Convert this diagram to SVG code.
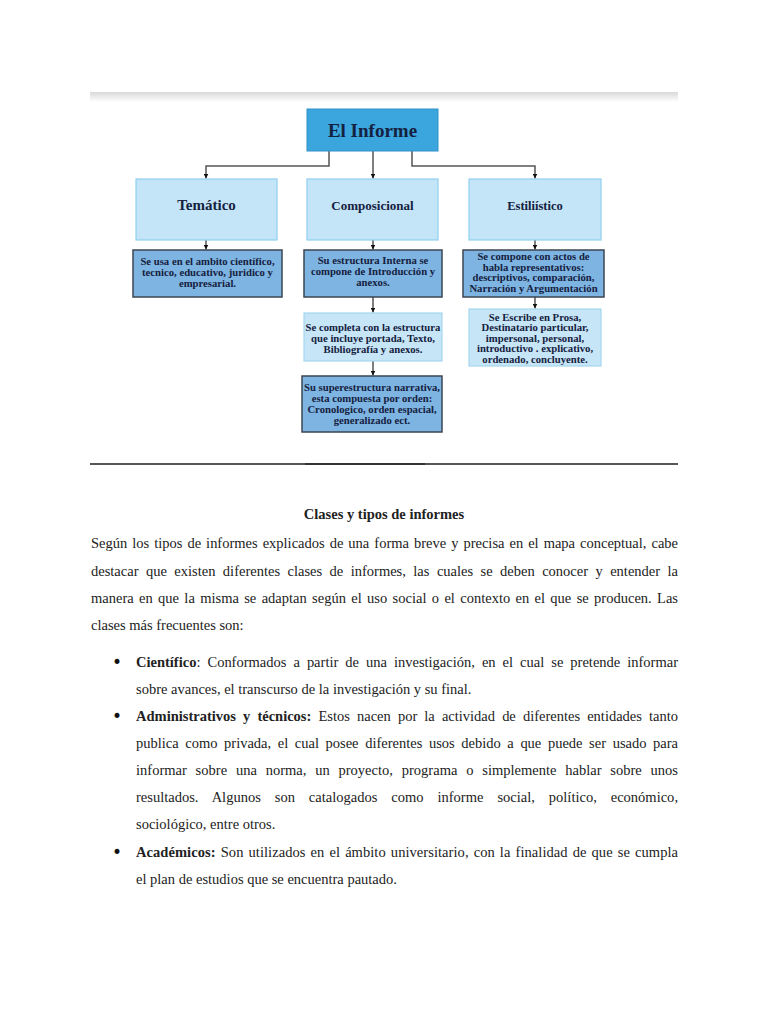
<svg xmlns="http://www.w3.org/2000/svg" width="768" height="1024" viewBox="0 0 768 1024">
<defs>
<linearGradient id="band" x1="0" y1="0" x2="0" y2="1">
<stop offset="0" stop-color="#d9d9d9"/>
<stop offset="1" stop-color="#ffffff"/>
</linearGradient>
<marker id="arr" viewBox="0 0 10 10" refX="10" refY="5" markerWidth="5" markerHeight="5" orient="auto" markerUnits="userSpaceOnUse">
<path d="M0,0 L10,5 L0,10 z" fill="#111"/>
</marker>
<style>
.d{font-family:"Liberation Serif","Times New Roman",serif;font-weight:bold;fill:#152140;text-anchor:middle}
.s{font-size:10.7px}
.top{fill:#3ba6de;stroke:#3190c6;stroke-width:1}
.l2{fill:#c4e5f7;stroke:#8fcfee;stroke-width:1.2}
.dk{fill:#7db4e2;stroke:#3e4652;stroke-width:1.5}
.lt{fill:#c6e5f6;stroke:#a3d6f1;stroke-width:1.2}
.c{fill:none;stroke:#555;stroke-width:1.5}
.t{font-family:"Liberation Serif","Times New Roman",serif;font-size:14.5px;fill:#222}
.b{font-weight:bold}
.bl{font-family:"DejaVu Sans",sans-serif;font-size:17px;fill:#111}
</style>
</defs>
<rect width="768" height="1024" fill="#fff"/>
<rect x="90" y="92" width="588" height="10" fill="url(#band)"/>

<g id="connectors">
<path class="c" d="M329 151 V166 H206 V178.5" marker-end="url(#arr)"/>
<path class="c" d="M373 151 V178.5" marker-end="url(#arr)"/>
<path class="c" d="M412 151 V166 H535 V178.5" marker-end="url(#arr)"/>
<path class="c" d="M206 240 V249.5" marker-end="url(#arr)"/>
<path class="c" d="M373 240 V249.5" marker-end="url(#arr)"/>
<path class="c" d="M535 240 V249.5" marker-end="url(#arr)"/>
<path class="c" d="M373 297 V312.5" marker-end="url(#arr)"/>
<path class="c" d="M373 361 V375.5" marker-end="url(#arr)"/>
<path class="c" d="M535 297 V308.5" marker-end="url(#arr)"/>
</g>

<g id="el-informe">
<rect class="top" x="307" y="109" width="131" height="42"/>
<text class="d" x="372.5" y="136.5" font-size="19">El Informe</text>
</g>

<g id="tematico">
<rect class="l2" x="136" y="179" width="141" height="61"/>
<text class="d" x="206.5" y="210" font-size="15">Temático</text>
</g>
<g id="composicional">
<rect class="l2" x="307" y="179" width="131" height="61"/>
<text class="d" x="372.5" y="209.5" font-size="13">Composicional</text>
</g>
<g id="estilistico">
<rect class="l2" x="469" y="179" width="132" height="61"/>
<text class="d" x="535" y="209.5" font-size="12.5">Estiliístico</text>
</g>

<g id="tematico-uso">
<rect class="dk" x="133" y="250" width="149" height="47"/>
<text class="d s"><tspan x="207.5" y="265">Se usa en el ambito científico,</tspan><tspan x="207.5" y="276">tecnico, educativo, juridico y</tspan><tspan x="207.5" y="287">empresarial.</tspan></text>
</g>
<g id="comp-interna">
<rect class="dk" x="304" y="250" width="138" height="47"/>
<text class="d s"><tspan x="373" y="264">Su estructura Interna se</tspan><tspan x="373" y="275">compone de Introducción y</tspan><tspan x="373" y="286">anexos.</tspan></text>
</g>
<g id="comp-completa">
<rect class="lt" x="304" y="313" width="138" height="48"/>
<text class="d s"><tspan x="373" y="331">Se completa con la estructura</tspan><tspan x="373" y="342">que incluye portada, Texto,</tspan><tspan x="373" y="353">Bibliografía y anexos.</tspan></text>
</g>
<g id="comp-superestructura">
<rect class="dk" x="302" y="376" width="140" height="56"/>
<text class="d s"><tspan x="372" y="390.5">Su superestructura narrativa,</tspan><tspan x="372" y="401.5">esta compuesta por orden:</tspan><tspan x="372" y="412.5">Cronologico, orden espacial,</tspan><tspan x="372" y="423.5">generalizado ect.</tspan></text>
</g>
<g id="estil-actos">
<rect class="dk" x="463" y="250" width="141" height="47"/>
<text class="d s"><tspan x="533.5" y="260">Se compone con actos de</tspan><tspan x="533.5" y="270.5">habla representativos:</tspan><tspan x="533.5" y="281">descriptivos, comparación,</tspan><tspan x="533.5" y="291.5">Narración y Argumentación</tspan></text>
</g>
<g id="estil-prosa">
<rect class="lt" x="469" y="309" width="132" height="57"/>
<text class="d s"><tspan x="535" y="320.5">Se Escribe en Prosa,</tspan><tspan x="535" y="331">Destinatario particular,</tspan><tspan x="535" y="341.5">impersonal, personal,</tspan><tspan x="535" y="352">introductivo . explicativo,</tspan><tspan x="535" y="362.5">ordenado, concluyente.</tspan></text>
</g>

<rect x="90" y="463" width="588" height="2" fill="#555"/>
<rect x="305" y="463" width="120" height="2" fill="#333"/>

<g id="texto">
<text class="t b" x="384" y="519" text-anchor="middle">Clases y tipos de informes</text>
<text class="t" x="91" y="548" word-spacing="1.4" textLength="587" lengthAdjust="spacing">Según los tipos de informes explicados de una forma breve y precisa en el mapa conceptual, cabe</text>
<text class="t" x="91" y="575.5" word-spacing="3.8" textLength="587" lengthAdjust="spacing">destacar que existen diferentes clases de informes, las cuales se deben conocer y entender la</text>
<text class="t" x="91" y="602.5" word-spacing="1.7" textLength="587" lengthAdjust="spacing">manera en que la misma se adaptan según el uso social o el contexto en el que se producen. Las</text>
<text class="t" x="91" y="629.5">clases más frecuentes son:</text>

<text class="bl" x="112" y="668">•</text>
<text class="t" x="136" y="667" word-spacing="3.4" textLength="542" lengthAdjust="spacing"><tspan class="b">Científico</tspan>: Conformados a partir de una investigación, en el cual se pretende informar</text>
<text class="t" x="136" y="694">sobre avances, el transcurso de la investigación y su final.</text>

<text class="bl" x="112" y="722">•</text>
<text class="t" x="136" y="721" word-spacing="3.5" textLength="542" lengthAdjust="spacing"><tspan class="b">Administrativos y técnicos:</tspan> Estos nacen por la actividad de diferentes entidades tanto</text>
<text class="t" x="136" y="748" word-spacing="3" textLength="542" lengthAdjust="spacing">publica como privada, el cual posee diferentes usos debido a que puede ser usado para</text>
<text class="t" x="136" y="775" word-spacing="5.2" textLength="542" lengthAdjust="spacing">informar sobre una norma, un proyecto, programa o simplemente hablar sobre unos</text>
<text class="t" x="136" y="802" word-spacing="10.3" textLength="542" lengthAdjust="spacing">resultados. Algunos son catalogados como informe social, político, económico,</text>
<text class="t" x="136" y="829">sociológico, entre otros.</text>

<text class="bl" x="112" y="858">•</text>
<text class="t" x="136" y="857" word-spacing="1.4" textLength="542" lengthAdjust="spacing"><tspan class="b">Académicos:</tspan> Son utilizados en el ámbito universitario, con la finalidad de que se cumpla</text>
<text class="t" x="136" y="884">el plan de estudios que se encuentra pautado.</text>
</g>
</svg>
